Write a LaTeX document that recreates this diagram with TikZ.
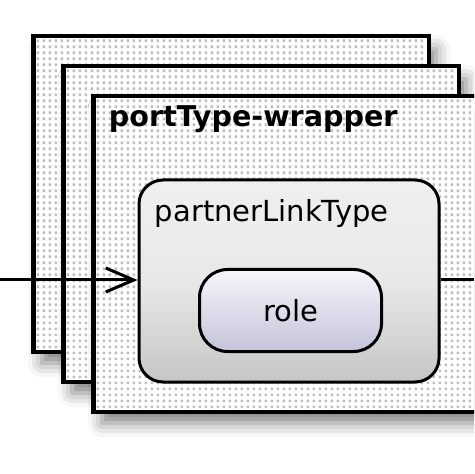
\documentclass[tikz,border=0pt]{standalone}
\usepackage{fontspec}
\setmainfont{DejaVu Sans}
\usetikzlibrary{shadows.blur, arrows.meta}
\definecolor{roletop}{RGB}{246,246,252}
\definecolor{rolebottom}{RGB}{196,196,218}
\definecolor{dotgray}{RGB}{190,190,190}
\tikzstyle{wrapperbox} = [
    rectangle,
    minimum width=197pt,
    minimum height=157pt,
    inner sep=0pt,
    line width=1.5pt,
    draw=black,
    fill=white,
    blur shadow={shadow xshift=4pt, shadow yshift=-6pt, shadow blur radius=7pt, shadow opacity=50}
]
\tikzstyle{linkbox} = [
    rectangle,
    rounded corners=12pt,
    minimum width=150pt,
    minimum height=101pt,
    line width=1.5pt,
    draw=black,
    top color=gray!12,
    bottom color=gray!45,
    middle color=gray!18
]
\tikzstyle{rolebox} = [
    rectangle,
    rounded corners=14pt,
    minimum width=91pt,
    minimum height=41pt,
    line width=1.5pt,
    draw=black,
    top color=roletop,
    bottom color=rolebottom,
    font=\fontsize{14.5pt}{17pt}\selectfont
]
\tikzstyle{titletext} = [
    inner sep=0pt,
    anchor=base west
]
\tikzstyle{arrow} = [line width=1.5pt, -{Straight Barb[length=14pt, width=12pt, line width=1.5pt]}]

% dotted fill of a wrapper box, border drawn again on top
\newcommand{\wrapperdots}[1]{
    \foreach \j in {0,...,51} {
        \fill [dotgray] \foreach \i in {0,...,64} {
            ([shift={(\i*6+4,\j*6+4)}]#1.north west) rectangle ++(2.6,2.6)
        };
    }
    \draw [line width=1.5pt] (#1.south west) rectangle (#1.north east);
}

\begin{document}
\begin{tikzpicture}[x=0.5pt, y=-0.5pt]

\useasboundingbox (0,0) rectangle (474,474);
\clip (0,0) rectangle (474,474);

\node (wrapper3) [wrapperbox] at (231,194) {};
\wrapperdots{wrapper3}
\node (wrapper2) [wrapperbox, xshift=15pt, yshift=-15pt] at (wrapper3) {};
\wrapperdots{wrapper2}
\node (wrapper) [wrapperbox, xshift=15pt, yshift=-15pt] at (wrapper2) {};
\wrapperdots{wrapper}

\node (wraptitle) [titletext, font=\bfseries\fontsize{14.3pt}{17pt}\selectfont]
at ([xshift=8pt, yshift=-15.5pt]wrapper.north west) {portType-wrapper};

\node (plt) [linkbox] at (289,281) {};

\node (plttitle) [titletext, font=\fontsize{14.5pt}{17pt}\selectfont]
at ([xshift=8.5pt, yshift=-21.5pt]plt.north west) {partnerLinkType};

\node (role) [rolebox] at (290.5,310.5) {role};

\coordinate (entry) at (0,280);
\coordinate (exit) at (474,280);

\draw [arrow] (entry) -- (entry -| plt.west);
\draw [line width=1.5pt] (exit -| plt.east) -- (exit);

\end{tikzpicture}
\end{document}
